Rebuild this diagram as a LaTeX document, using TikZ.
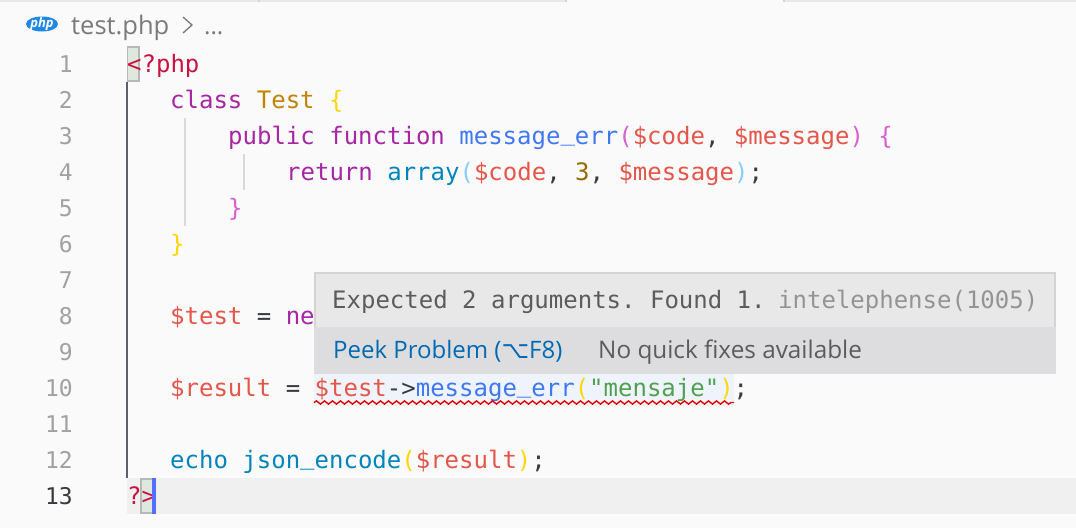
\documentclass[tikz,border=0pt]{standalone}
\usepackage{fontspec}
\usetikzlibrary{shapes.geometric, positioning, decorations.pathmorphing}
\setmainfont{Open Sans}
\setmonofont{DejaVu Sans Mono}
\newfontfamily\symbfont{DejaVu Sans}

\definecolor{pagebg}{HTML}{FAFAFA}
\definecolor{kwcol}{HTML}{A626A4}
\definecolor{varcol}{HTML}{E45649}
\definecolor{tagcol}{HTML}{CA1243}
\definecolor{clscol}{HTML}{C18401}
\definecolor{funcol}{HTML}{4078F2}
\definecolor{syscol}{HTML}{0184BC}
\definecolor{numcol}{HTML}{986801}
\definecolor{strcol}{HTML}{50A14F}
\definecolor{txtcol}{HTML}{383A42}
\definecolor{yelcol}{HTML}{FFD60A}
\definecolor{pnkcol}{HTML}{DA5FD0}
\definecolor{blucol}{HTML}{87CEFA}
\definecolor{iconcol}{HTML}{1E88E5}
\definecolor{guidecol}{HTML}{5C5F6E}
\definecolor{matchcol}{HTML}{DFE8DF}
\definecolor{cursorcol}{HTML}{526FFF}
\definecolor{hovertop}{HTML}{E8E8E8}
\definecolor{hoverbot}{HTML}{DDDDE0}
\definecolor{rangecol}{HTML}{EFF4FC}
\definecolor{peekcol}{HTML}{006AB1}

\newcommand{\kw}[1]{\textcolor{kwcol}{#1}}
\newcommand{\vr}[1]{\textcolor{varcol}{#1}}
\newcommand{\fn}[1]{\textcolor{funcol}{#1}}
\newcommand{\sy}[1]{\textcolor{syscol}{#1}}
\newcommand{\usc}{\raisebox{3.5pt}{\_}}

\tikzset{
    codeline/.style={anchor=base west, inner sep=0pt, font=\ttfamily\fontsize{24}{28}\selectfont, text=txtcol},
    linenum/.style={anchor=base east, inner sep=0pt, font=\ttfamily\fontsize{23}{28}\selectfont, text=black!37},
    uitext/.style={anchor=base west, inner sep=0pt, font=\fontsize{24}{28}\selectfont},
    guide/.style={line width=1.3pt, draw=black!15},
    matchbox/.style={fill=matchcol, draw=black!28, line width=1.2pt}
}

\begin{document}
\begin{tikzpicture}[x=1pt,y=-1pt]

% Page and tab strip
\fill[pagebg] (0,0) rectangle (1076,528);
\useasboundingbox (0,0) rectangle (1076,528);
\fill[black!9] (0,0) rectangle (567,2);
\fill[black!9] (783,0) rectangle (1076,2);
\fill[black!17] (258,0) rectangle (260,2);
\fill[black!17] (565,0) rectangle (567,2);
\fill[black!17] (783,0) rectangle (785,2);

% Breadcrumb
\node[ellipse, fill=iconcol, minimum width=32pt, minimum height=15pt, inner sep=0pt] (phpicon) at (42,24) {};
\node[font=\fontsize{13}{13}\selectfont\itshape\bfseries, text=white, inner sep=0pt] (phplabel) at (phpicon) {php};
\node[uitext, font=\fontsize{25.5}{28}\selectfont, text=black!52] (crumb) at (71,34) {test.php};
\node[uitext, text=black!52] (crumbdots) at (204,34) {...};
\draw[black!52, line width=1.3pt] (183,17) -- (192,25) -- (183,33);

% Highlights of the current line and the problem range
\fill[black!6] (127,478) rectangle (1076,514);
\fill[rangecol] (314,374) rectangle (734,406);

% Indent guides
\draw[line width=1.4pt, draw=guidecol] (127,82) -- (127,478);
\draw[guide] (185,118) -- (185,226);
\draw[guide] (244,154) -- (244,190);

% Bracket match boxes
\draw[matchbox] (127.5,47) rectangle (139,81);
\draw[matchbox] (141,479) rectangle (153,513);

% Line numbers
\foreach \n in {1,...,12}
{
    \node[linenum] (num\n) at (73,{36+36*\n}) {\n};
}
\node[linenum, text=txtcol] (num13) at (73,504) {13};

% Code
\node[codeline] (code1) at (127,72) {\textcolor{tagcol}{<?php}};
\node[codeline] (code2) at (170,108) {\kw{class} \textcolor{clscol}{Test} \textcolor{yelcol}{\{}};
\node[codeline] (code3) at (228,144) {\kw{public function} \fn{message\usc err}\textcolor{pnkcol}{(}\vr{\$code}, \vr{\$message}\textcolor{pnkcol}{)} \textcolor{pnkcol}{\{}};
\node[codeline] (code4) at (286,180) {\kw{return} \sy{array}\textcolor{blucol}{(}\vr{\$code}, \textcolor{numcol}{3}, \vr{\$message}\textcolor{blucol}{)};};
\node[codeline] (code5) at (228,216) {\textcolor{pnkcol}{\}}};
\node[codeline] (code6) at (170,252) {\textcolor{yelcol}{\}}};
\node[codeline] (code8) at (170,324) {\vr{\$test} = \kw{ne}};
\node[codeline] (code10) at (170,396) {\vr{\$result} = \vr{\$test}->\fn{message\usc err}\textcolor{yelcol}{(}\textcolor{strcol}{"mensaje"}\textcolor{yelcol}{)};};
\node[codeline] (code12) at (170,468) {\sy{echo} \sy{json\usc encode}\textcolor{yelcol}{(}\vr{\$result}\textcolor{yelcol}{)};};
\node[codeline] (code13) at (127,504) {\textcolor{tagcol}{?>}};

% Cursor
\fill[cursorcol] (152,478) rectangle (156,514);

% Squiggle under the problem
\draw[red!90!black, line width=1.4pt, decorate, decoration={snake, amplitude=1.6pt, segment length=8pt}] (314,402.5) -- (734,402.5);

% Tooltip
\fill[hovertop] (314,272) rectangle (1056,327);
\draw[black!17, line width=2pt] (315,327) -- (315,273) -- (1055,273) -- (1055,327);
\fill[hoverbot] (314,327) rectangle (1056,374);
\node[codeline, text=black!64] (hovermsg) at (332,308) {Expected 2 arguments. Found 1.};
\node[codeline, text=black!42] (hoversrc) at (778,308) {intelephense(1005)};
\node[uitext, text=peekcol] (peek) at (333,358) {Peek Problem ({\symbfont ⌥}F8)};
\node[uitext, font=\fontsize{24.3}{28}\selectfont, text=black!64] (nofix) at (598,358) {No quick fixes available};

\end{tikzpicture}
\end{document}
